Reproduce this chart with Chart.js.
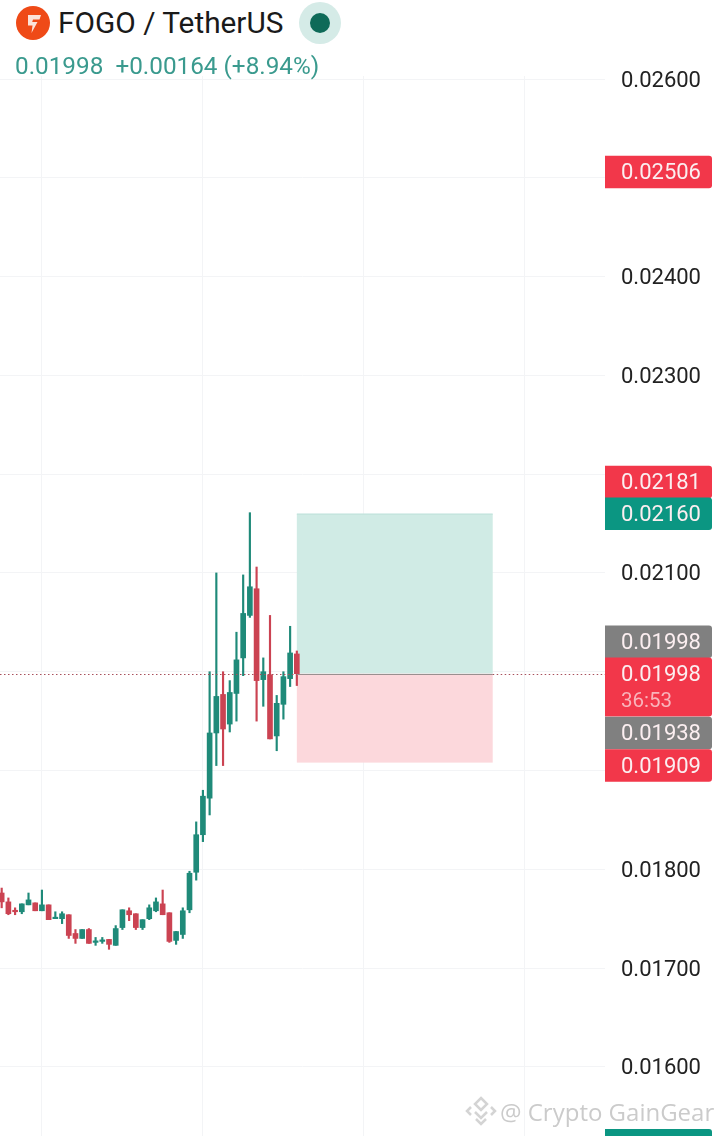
<!DOCTYPE html>
<html>
<head>
<meta charset="utf-8">
<style>
html,body{margin:0;padding:0;background:#fff;width:720px;height:1136px;overflow:hidden;position:relative;font-family:Roboto,sans-serif}
canvas{position:absolute;left:0;top:0}
#head{position:absolute;left:0;top:0;width:605px;height:76px;background:#fff}
#title{position:absolute;left:58px;top:5px;font-size:29.8px;line-height:36px;color:#1a1a1a;white-space:nowrap}
#quote{position:absolute;left:15px;top:51px;font-size:24.3px;line-height:30px;color:#3a9a8e;white-space:pre}
#icon{position:absolute;left:16px;top:6px}
#dot{position:absolute;left:299px;top:2px}
#wm{position:absolute;left:500px;top:1095px;font-family:"Open Sans",sans-serif;font-size:24px;line-height:34px;color:#cbcbcb;white-space:nowrap}
#wmi{position:absolute;left:465px;top:1095px}
</style>
</head>
<body>
<canvas id="c" width="720" height="1136"></canvas>
<div id="head">
<svg id="icon" width="34" height="34" viewBox="0 0 34 34"><circle cx="17" cy="17" r="17" fill="#ef4a17"/><path d="M12 9h13l-1.5 4.5H17l-.8 2.5h5.3l-6 11 1-7.5h-4.5z" fill="#fbe3da"/></svg>
<div id="title">FOGO / TetherUS</div>
<svg id="dot" width="42" height="42" viewBox="0 0 42 42"><circle cx="21" cy="21" r="21" fill="#d5ebe7"/><circle cx="21" cy="21" r="10" fill="#0e6a58"/></svg>
<div id="quote">0.01998  +0.00164 (+8.94%)</div>
</div>
<svg id="wmi" width="32" height="32" viewBox="0 0 32 32" fill="none" stroke="#d4d4d4" stroke-width="2.5"><path d="M16 3l6 6-6 6-6-6z"/><path d="M6 12l-4 4 4 4M26 12l4 4-4 4"/><path d="M10 17l6 6 6-6"/><path d="M11 24l5 5 5-5"/></svg>
<div id="wm">@ Crypto GainGear</div>
<script src="https://cdn.jsdelivr.net/npm/chart.js@4/dist/chart.umd.min.js"></script>
<script>
const opens  = [0.01776,0.01767,0.01758,0.01757,0.01764,0.01766,0.01758,0.01764,0.01750,0.01750,0.01754,0.01735,0.01730,0.01739,0.01726,0.01727,0.01729,0.01723,0.01741,0.01758,0.01755,0.01741,0.01750,0.01758,0.01765,0.01756,0.01728,0.01734,0.01759,0.01797,0.01835,0.01872,0.01938,0.01977,0.01947,0.01978,0.02014,0.02057,0.02084,0.01992,0.01997,0.01935,0.01967,0.01993,0.02018];
const closes = [0.01767,0.01755,0.01757,0.01765,0.01769,0.01758,0.01764,0.01749,0.01751,0.01755,0.01733,0.01730,0.01739,0.01725,0.01727,0.01728,0.01724,0.01740,0.01759,0.01754,0.01741,0.01749,0.01761,0.01767,0.01754,0.01727,0.01737,0.01758,0.01796,0.01835,0.01874,0.01938,0.01975,0.01942,0.01979,0.02012,0.02059,0.02086,0.01991,0.02000,0.01932,0.01968,0.01995,0.02019,0.01998];
const highs  = [0.01781,0.01771,0.01761,0.01765,0.01776,0.01766,0.01779,0.01764,0.01757,0.01757,0.01754,0.01739,0.01739,0.01740,0.01731,0.01731,0.01729,0.01743,0.01759,0.01761,0.01755,0.01749,0.01764,0.01771,0.01779,0.01756,0.01737,0.01761,0.01798,0.01848,0.01880,0.02000,0.02100,0.02000,0.01991,0.02040,0.02098,0.02161,0.02106,0.02014,0.02057,0.01976,0.02000,0.02046,0.02021];
const lows   = [0.01761,0.01754,0.01754,0.01755,0.01764,0.01758,0.01758,0.01749,0.01750,0.01745,0.01730,0.01725,0.01730,0.01725,0.01723,0.01725,0.01719,0.01723,0.01739,0.01748,0.01739,0.01739,0.01749,0.01757,0.01754,0.01726,0.01724,0.01730,0.01756,0.01789,0.01828,0.01855,0.01905,0.01905,0.01939,0.01950,0.01996,0.02055,0.01950,0.01965,0.01932,0.01920,0.01952,0.01985,0.01986];
const priceTicks = [0.026,0.025,0.024,0.023,0.022,0.021,0.020,0.019,0.018,0.017,0.016];
const timeGrid = [6,30,54,78];
const targetPrice = 0.0216, entryPrice = 0.01998, stopPrice = 0.01909;
const boxBars = 29.2;
const priceTags = [
  {text:'0.02506', value:0.02506, kind:'red'},
  {text:'0.02181', value:0.02181, kind:'red'},
  {text:'0.02160', value:0.0216,  kind:'green'},
  {text:'0.01998', value:0.01998, kind:'grey'},
  {text:'0.01998', value:0.01998, kind:'red', sub:'36:53'},
  {text:'0.01938', value:0.01938, kind:'grey'},
  {text:'0.01909', value:0.01909, kind:'red'}
];
const GREEN='#1f8a79', RED='#cb4352';
const TAG={red:'#f2374a',green:'#0b9682',grey:'#808080'};
// pixel shift that keeps stacked tags from overlapping
const tagShift=[0,-11,0,-32,0,0,4];

const idx = opens.map((_,i)=>i);
const up = i => closes[i]>=opens[i];

function rr(ctx,x,y,w,h,r){ctx.beginPath();ctx.roundRect(x,y,w,h,r);ctx.fill();}
function noPad(ax){ax.paddingTop=0;ax.paddingBottom=0;ax.paddingLeft=0;ax.paddingRight=0;}

const overlay = {
  id:'overlay',
  beforeDatasetsDraw(ch){
    const {ctx,scales:{x,y}}=ch;
    const l=x.getPixelForValue(44), r=x.getPixelForValue(44+boxBars);
    const t=y.getPixelForValue(targetPrice), m=y.getPixelForValue(entryPrice), b=y.getPixelForValue(stopPrice)+1;
    ctx.save();
    ctx.fillStyle='#d0ebe5'; ctx.fillRect(l,t,r-l,m-t);
    ctx.fillStyle='#fcd8dc'; ctx.fillRect(l,m,r-l,b-m);
    ctx.strokeStyle='#bfe2db'; ctx.lineWidth=1; ctx.beginPath(); ctx.moveTo(l,t+.5); ctx.lineTo(r,t+.5); ctx.stroke();
    ctx.restore();
  },
  afterDatasetsDraw(ch){
    const {ctx,scales:{x,y},chartArea:a}=ch;
    const m=Math.round(y.getPixelForValue(entryPrice))+.5;
    ctx.save();
    ctx.strokeStyle='#a8505c'; ctx.lineWidth=1; ctx.setLineDash([1.5,2.5]);
    ctx.beginPath(); ctx.moveTo(a.left,m); ctx.lineTo(x.getPixelForValue(44),m); ctx.stroke();
    ctx.setLineDash([]);
    ctx.strokeStyle='#9a8f8f';
    ctx.beginPath(); ctx.moveTo(x.getPixelForValue(44),m); ctx.lineTo(x.getPixelForValue(44+boxBars),m); ctx.stroke();
    ctx.setLineDash([1.5,2.5]); ctx.strokeStyle='#a8505c';
    ctx.beginPath(); ctx.moveTo(x.getPixelForValue(44+boxBars),m); ctx.lineTo(a.right,m); ctx.stroke();
    ctx.setLineDash([]);
    // price tags on the axis
    ctx.textBaseline='middle'; ctx.textAlign='left';
    priceTags.forEach((tag,i)=>{
      const cy=y.getPixelForValue(tag.value)+tagShift[i];
      const h=tag.sub?59:32.5;
      const top=cy-16.25;
      ctx.fillStyle=TAG[tag.kind];
      rr(ctx,605,top,107,h,[0,3,3,0]);
      ctx.fillStyle='#fbeef0'; ctx.font='22px Roboto';
      ctx.fillText(tag.text,621,cy+2);
      if(tag.sub){ctx.fillStyle='#f9b4bb'; ctx.font='20.5px Roboto'; ctx.fillText(tag.sub,621,cy+28);}
    });
    // next tag sits below the visible picture, only its top edge shows
    ctx.fillStyle=TAG.green; rr(ctx,605,1129,107,16,[0,3,3,0]);
    ctx.restore();
  }
};

new Chart(document.getElementById('c'),{
  type:'bar',
  data:{datasets:[
    {label:'wick',order:2,grouped:false,barThickness:1.5,minBarLength:1,
     data:idx.map(i=>({x:i,y:[lows[i],highs[i]]})),
     backgroundColor:idx.map(i=>up(i)?GREEN:RED)},
    {label:'body',order:1,grouped:false,barThickness:5,minBarLength:1.5,
     data:idx.map(i=>({x:i,y:[opens[i],closes[i]]})),
     backgroundColor:idx.map(i=>up(i)?GREEN:RED)}
  ]},
  options:{
    responsive:false,animation:false,devicePixelRatio:1,
    layout:{padding:0},
    plugins:{legend:{display:false},tooltip:{enabled:false},title:{display:false}},
    scales:{
      x:{type:'linear',min:-0.25,max:89.94,offset:false,
         afterBuildTicks(ax){ax.ticks=timeGrid.map(v=>({value:v}));},
         afterFit(ax){ax.height=0;noPad(ax);},
         grid:{color:'#f3f4f6',lineWidth:1,drawTicks:false,offset:false},border:{display:false},
         ticks:{display:false}},
      y:{type:'linear',position:'right',min:0.0153,max:0.0268,
         afterBuildTicks(ax){ax.ticks=priceTicks.map(v=>({value:v}));},
         afterFit(ax){ax.width=115;noPad(ax);},
         grid:{color:'#f3f4f6',lineWidth:1,drawTicks:false},border:{display:false},
         ticks:{padding:16,labelOffset:2,color:'#222',font:{family:'Roboto',size:22},autoSkip:false,
                callback:v=>v.toFixed(5)}}
    }
  },
  plugins:[overlay]
});
</script>
</body>
</html>
